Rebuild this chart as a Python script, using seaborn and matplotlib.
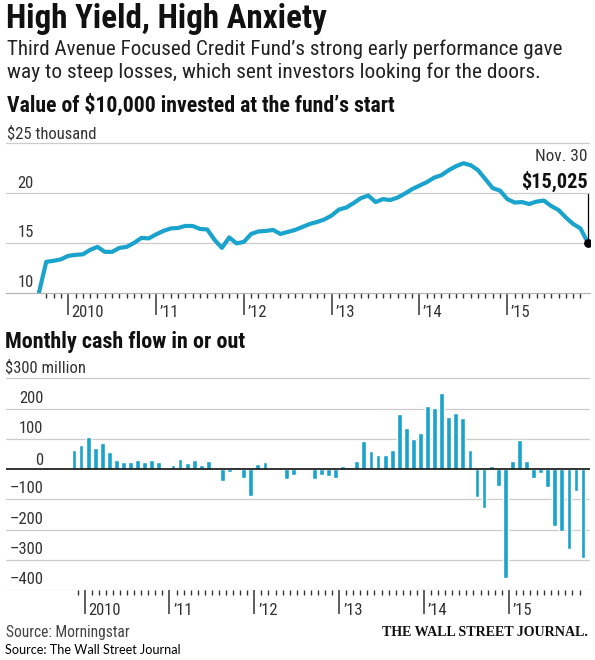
import matplotlib
matplotlib.use("Agg")
import matplotlib.pyplot as plt
import seaborn as sns
import numpy as np
import pandas as pd
from matplotlib import font_manager as fm

# ---------------- data ----------------
# Value of $10,000 invested (thousands), month-end from Aug 2009 to Nov 2015
value_months = pd.period_range("2009-08", "2015-11", freq="M").astype(str).tolist()
value_k = [10.0, 13.1, 13.2, 13.35, 13.7, 13.8, 13.85, 14.3, 14.6, 14.1, 14.1, 14.5,
           14.6, 15.0, 15.5, 15.45, 15.85, 16.2, 16.45, 16.5, 16.7, 16.7, 16.4, 16.35,
           15.3, 14.5, 15.55, 14.95, 15.1, 15.9, 16.15, 16.2, 16.3, 15.9, 16.1, 16.3,
           16.6, 16.9, 17.1, 17.35, 17.75, 18.35, 18.55, 19.0, 19.5, 19.75, 19.1, 19.4,
           19.3, 19.55, 19.95, 20.4, 20.75, 21.1, 21.55, 21.8, 22.3, 22.7, 23.0, 22.8,
           22.3, 21.4, 20.5, 20.25, 19.4, 19.05, 19.1, 18.9, 19.15, 19.25, 18.7, 18.3,
           17.55, 16.9, 16.45, 15.025]

# Monthly cash flow ($ million), Nov 2009 to Nov 2015
flow_months = pd.period_range("2009-11", "2015-11", freq="M").astype(str).tolist()
flow_musd = [64, 78,
             107, 70, 86, 58, 31, 23, 22, 31, 22, 29, 22, 0,
             13, 33, 20, 29, 12, 27, 0, -41, -11, 8, -31, -89,
             18, 23, 0, 0, -32, -21, 0, 0, -33, -20, -24, -28,
             10, 8, 27, 92, 61, 46, 46, 62, 181, 136, 99, 120,
             209, 201, 250, 172, 186, 169, 63, -92, -128, 11, -56, -360,
             28, 96, 26, -28, -14, -60, -190, -206, -266, -74, -293]

year_labels = ["2010", "\u201911", "\u201912", "\u201913", "\u201914", "\u201915"]
top_yticks = [10, 15, 20]
bottom_yticks = [300, 200, 100, 0, -100, -200, -300, -400]
bottom_ylabels = ["$300 million", "200", "100", "0", "\u2013100", "\u2013200", "\u2013300", "\u2013400"]

# ---------------- style ----------------
W, H = 595, 660
BLUE = "#1aa3cc"
sns.set_style("white")
avail = {f.name for f in fm.fontManager.ttflist}


def pick(cands):
    for n in cands:
        if n in avail:
            return n
    return "DejaVu Sans"


SANS = pick(["Liberation Sans Narrow", "Roboto Condensed", "Roboto", "Lato", "DejaVu Sans"])
SERIF = pick(["Liberation Serif", "DejaVu Serif"])
SRC = pick(["Lato", "Open Sans", "DejaVu Sans"])
plt.rcParams["font.family"] = [SANS, "DejaVu Sans"]

fig = plt.figure(figsize=(W / 100, H / 100), dpi=100)
renderer = fig.canvas.get_renderer()
PT = 0.72  # points per pixel


def fit(x, y, s, width_px, **kw):
    t = fig.text(x / W, 1 - y / H, s, va="baseline", **kw)
    bb = t.get_window_extent(renderer=renderer)
    t.set_fontsize(t.get_fontsize() * width_px / bb.width)
    return t


# ---------------- top chart ----------------
ax1 = fig.add_axes([6 / W, 1 - 292.7 / H, 584 / W, (292.7 - 140.3) / H])
xs = np.arange(len(value_months))
sns.lineplot(x=xs, y=value_k, ax=ax1, color=BLUE, linewidth=3.0,
             solid_joinstyle="round", solid_capstyle="round", zorder=3)
ax1.set_xlim(-4.5, 75.3)
ax1.set_ylim(10, 25.3)
ax1.set_yticks([15, 20, 25])
ax1.yaxis.grid(True, color="#cccccc", linewidth=0.9)
ax1.xaxis.grid(False)
ax1.tick_params(axis="y", length=0, labelleft=False)
for s in ax1.spines.values():
    s.set_visible(False)
ax1.spines["bottom"].set_visible(True)
ax1.spines["bottom"].set_color("#b5b5b5")
ax1.spines["bottom"].set_linewidth(0.9)

year_idx = [i for i, m in enumerate(value_months) if m.endswith("-12")]
minor_idx = [i for i in range(1, len(value_months) - 1) if i not in year_idx]
ax1.set_xticks(year_idx)
ax1.set_xticks(minor_idx, minor=True)
ax1.tick_params(axis="x", which="both", bottom=True, direction="out")
ax1.tick_params(axis="x", which="major", length=22 * PT, width=1.1, color="#333333", labelbottom=False)
ax1.tick_params(axis="x", which="minor", length=4.5 * PT, width=1.0, color="#333333")
for xi, lab in zip(year_idx, year_labels):
    ax1.annotate(lab, xy=(xi, 0), xycoords=("data", "axes fraction"),
                 xytext=(3.4 * PT, -24 * PT), textcoords="offset points",
                 ha="left", va="baseline", fontsize=12, color="#333333")
for v in top_yticks:
    ax1.annotate(str(v), xy=((34 - 6) / 584, v), xycoords=("axes fraction", "data"),
                 xytext=(0, 5.5 * PT), textcoords="offset points",
                 ha="right", va="baseline", fontsize=12, color="#333333")
ax1.annotate("$25 thousand", xy=(0.001, 25), xycoords=("axes fraction", "data"),
             xytext=(0, 5 * PT), textcoords="offset points",
             ha="left", va="baseline", fontsize=12, color="#333333")

# end point callout
ax1.scatter([xs[-1]], [value_k[-1]], s=28, color="black", zorder=5)
ax1.plot([xs[-1], xs[-1]], [value_k[-1], 19.95], color="black", linewidth=0.9, zorder=4)
fit(587.5, 160.7, "Nov. 30", 52, ha="right", color="#333333", fontsize=12)
fit(587.7, 188.3, "$15,025", 66, ha="right", color="#111111", fontsize=12, fontweight="bold")

# ---------------- bottom chart ----------------
ax2 = fig.add_axes([6 / W, 1 - 590 / H, 584 / W, (590 - 375.3) / H])
df = pd.DataFrame({"month": flow_months, "flow": flow_musd})
sns.barplot(data=df, x="month", y="flow", order=flow_months, color=BLUE,
            saturation=1, width=0.68, ax=ax2, zorder=2)
ax2.set_xlim(-9.62, 72.98)
ax2.set_ylim(-400, 310)
ax2.set_ylabel("")
ax2.set_xlabel("")
ax2.set_yticks([v for v in bottom_yticks if v != 0])
ax2.yaxis.grid(True, color="#cccccc", linewidth=0.9)
ax2.xaxis.grid(False)
ax2.set_axisbelow(True)
ax2.tick_params(axis="y", length=0, labelleft=False)
for s in ax2.spines.values():
    s.set_visible(False)
ax2.axhline(0, color="#111111", linewidth=1.2, zorder=3)

fyear = [i + 0.5 for i, m in enumerate(flow_months) if m.endswith("-12")]
fminor = [i + 0.5 for i in range(len(flow_months) - 1) if (i + 0.5) not in fyear]
ax2.set_xticks(fyear)
ax2.set_xticks(fminor, minor=True)
ax2.tick_params(axis="x", which="both", bottom=True, direction="out")
ax2.tick_params(axis="x", which="major", length=24 * PT, width=1.1, color="#333333", labelbottom=False)
ax2.tick_params(axis="x", which="minor", length=5 * PT, width=1.0, color="#333333")
for xi, lab in zip(fyear, year_labels):
    ax2.annotate(lab, xy=(xi, 0), xycoords=("data", "axes fraction"),
                 xytext=(4 * PT, -25 * PT), textcoords="offset points",
                 ha="left", va="baseline", fontsize=12, color="#333333")
for v, lab in zip(bottom_yticks, bottom_ylabels):
    if lab.startswith("$"):
        ax2.annotate(lab, xy=(-1 / 584, v), xycoords=("axes fraction", "data"),
                     xytext=(0, 6 * PT), textcoords="offset points",
                     ha="left", va="baseline", fontsize=12, color="#333333")
    else:
        ax2.annotate(lab, xy=((43.3 - 6) / 584, v), xycoords=("axes fraction", "data"),
                     xytext=(0, (4.5 if v == 0 else 6) * PT), textcoords="offset points",
                     ha="right", va="baseline", fontsize=12, color="#333333")

# ---------------- headline texts ----------------
fit(6, 28, "High Yield, High Anxiety", 320, fontweight="bold", color="#111111", fontsize=22)
fit(7, 55, "Third Avenue Focused Credit Fund\u2019s strong early performance gave", 554,
    color="#222222", fontsize=13)
fit(7, 78, "way to steep losses, which sent investors looking for the doors.", 533,
    color="#222222", fontsize=13)
fit(7, 111, "Value of $10,000 invested at the fund\u2019s start", 390,
    fontweight="bold", color="#111111", fontsize=14)
fit(5, 348.3, "Monthly cash flow in or out", 242,
    fontweight="bold", color="#111111", fontsize=14)
fit(6, 636.7, "Source: Morningstar", 124, color="#444444", fontsize=10)
fit(588, 636, "THE WALL STREET JOURNAL.", 206, ha="right", color="#111111",
    fontsize=10, fontweight="bold", family=[SERIF, "DejaVu Serif"])
fit(5, 654.3, "Source: The Wall Street Journal", 175, color="#000000",
    fontsize=9, family=[SRC, "DejaVu Sans"])

fig.savefig("out.png", dpi=100)
